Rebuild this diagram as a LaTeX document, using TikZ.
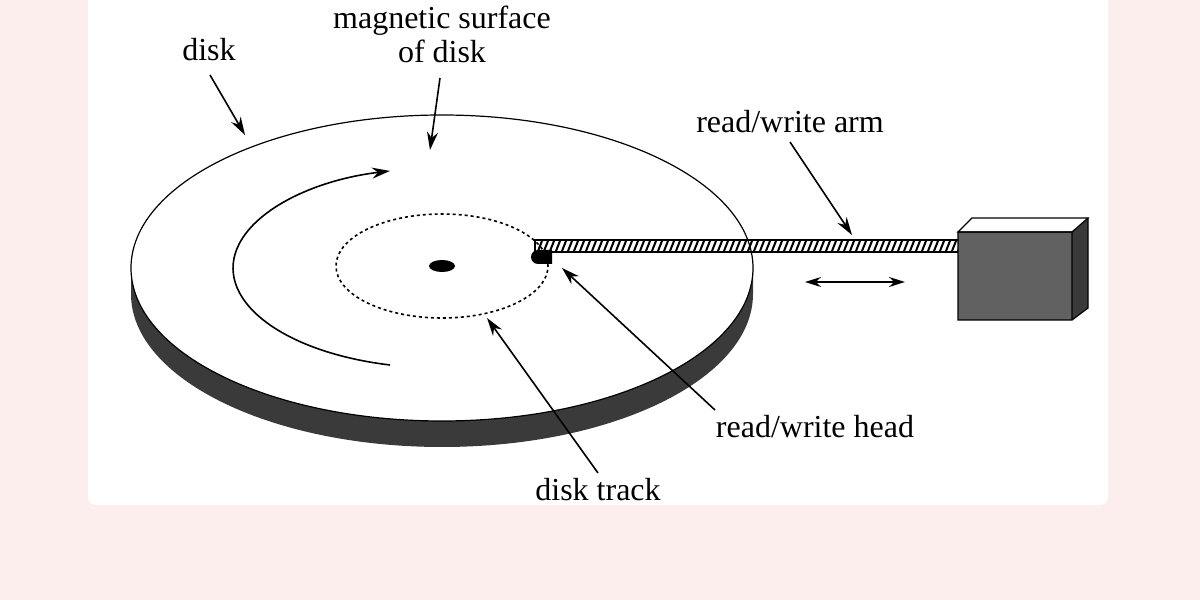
\documentclass[tikz,border=0pt]{standalone}
\usepackage{fontspec}
\setmainfont{Liberation Serif}
\usetikzlibrary{arrows.meta}
\definecolor{bgpink}{HTML}{FCEEEC}
\definecolor{speck}{HTML}{3A3A3A}
\begin{document}
\begin{tikzpicture}[x=1pt,y=1pt,
  lbl/.style={font=\fontsize{32}{34}\selectfont,align=center,inner sep=1pt},
  ptr/.style={-{Stealth[length=18pt,width=11pt]},line width=1.6pt}]
\useasboundingbox (0,0) rectangle (1200,600);
\fill[bgpink] (0,0) rectangle (1200,600);
\fill[white,rounded corners=8pt] (88,95) rectangle (1108,610);
% disk side
\fill[speck] (131,332) arc[start angle=180,end angle=360,x radius=311,y radius=153]
  -- (753,306) arc[start angle=0,end angle=-180,x radius=311,y radius=153] -- cycle;
\draw[line width=1.2pt,fill=white] (442,332) ellipse[x radius=311,y radius=153];
% track
\draw[dash pattern=on 3pt off 3pt,line width=1.6pt] (442,334) ellipse[x radius=106,y radius=52];
\fill (442,334) ellipse[x radius=13,y radius=6];
% rotation arrow
\draw[ptr] (390,235) arc[start angle=256,end angle=104,x radius=207,y radius=100];
% arm
\draw[line width=1.2pt] (535,348) rectangle (965,360);
\foreach \i in {0,...,70}{\draw[line width=2pt] ({538+6*\i},349) -- ({542+6*\i},359);}
\fill (538,350) arc[start angle=90,end angle=270,radius=7] -- (552,336) -- (552,350) -- cycle;
% cube
\fill[speck!80] (958,280) rectangle (1072,368);
\fill[speck] (1072,280) -- (1088,292) -- (1088,382) -- (1072,368) -- cycle;
\draw[line width=1.2pt,fill=white] (958,368) -- (972,382) -- (1088,382) -- (1072,368) -- cycle;
\draw[line width=1.2pt] (958,280) rectangle (1072,368) (1072,280) -- (1088,292) -- (1088,382);
% double arrow
\coordinate (dl) at (805,318); \coordinate (dr) at (905,318);
\draw[{Stealth[length=16pt,width=10pt]}-{Stealth[length=16pt,width=10pt]},line width=1.6pt] (dl) -- (dr);
% labels
\node[lbl] (disk) at (209,550) {disk};
\node[lbl] (mag) at (442,566) {magnetic surface\\of disk};
\node[lbl] (arm) at (790,478) {read/write arm};
\node[lbl] (head) at (815,173) {read/write head};
\node[lbl] (trk) at (598,110) {disk track};
\coordinate (diskT) at (245,465);
\coordinate (magT) at (430,450);
\coordinate (armT) at (852,365);
\coordinate (headT) at (562,332);
\coordinate (trkT) at (487,282);
\draw[ptr] (210,525) -- (diskT);
\draw[ptr] (440,522) -- (magT);
\draw[ptr] (790,458) -- (armT);
\draw[ptr] (715,190) -- (headT);
\draw[ptr] (598,127) -- (trkT);
\end{tikzpicture}
\end{document}
